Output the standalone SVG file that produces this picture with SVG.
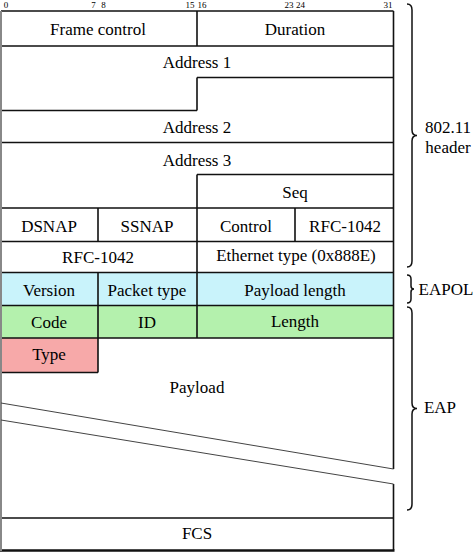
<svg xmlns="http://www.w3.org/2000/svg" width="474" height="552" viewBox="0 0 474 552" font-family="'Liberation Serif', 'Times New Roman', Times, serif">
<style>
.t{font-size:17px;fill:#000;text-anchor:middle}
.b{font-size:9px;fill:#000;text-anchor:middle}
.l{stroke:#111;stroke-width:1.6;fill:none}
.br{stroke:#111;stroke-width:1.5;fill:none}
.d{stroke:#444;stroke-width:1;fill:none}
</style>
<rect width="474" height="552" fill="#fff"/>
<g id="bits">
<text class="b" x="6" y="8">0</text>
<text class="b" x="93.5" y="8">7</text>
<text class="b" x="103.5" y="8">8</text>
<text class="b" x="190" y="8">15</text>
<text class="b" x="202" y="8">16</text>
<text class="b" x="289" y="8">23</text>
<text class="b" x="300.5" y="8">24</text>
<text class="b" x="388" y="8">31</text>
</g>
<g id="fills">
<rect x="1" y="272.5" width="392.5" height="33" fill="#c9f3fb"/>
<rect x="1" y="305.5" width="392.5" height="32.5" fill="#b4f1ad"/>
<rect x="1" y="338" width="97" height="34.5" fill="#f7a9a9"/>
</g>
<g id="frame-control"><text class="t" x="98" y="35">Frame control</text></g>
<g id="duration"><text class="t" x="295" y="35">Duration</text></g>
<g id="address1"><text class="t" x="197" y="68">Address 1</text></g>
<g id="address2"><text class="t" x="197" y="133">Address 2</text></g>
<g id="address3"><text class="t" x="197" y="166">Address 3</text></g>
<g id="seq"><text class="t" x="295" y="198">Seq</text></g>
<g id="dsnap"><text class="t" x="49" y="232">DSNAP</text></g>
<g id="ssnap"><text class="t" x="147" y="232">SSNAP</text></g>
<g id="control"><text class="t" x="246" y="232">Control</text></g>
<g id="rfc1"><text class="t" x="345" y="232">RFC-1042</text></g>
<g id="rfc2"><text class="t" x="98" y="263">RFC-1042</text></g>
<g id="ethertype"><text class="t" x="296" y="261">Ethernet type (0x888E)</text></g>
<g id="version"><text class="t" x="49" y="296">Version</text></g>
<g id="packet-type"><text class="t" x="147" y="296">Packet type</text></g>
<g id="payload-length"><text class="t" x="295" y="296">Payload length</text></g>
<g id="code"><text class="t" x="49" y="328">Code</text></g>
<g id="id"><text class="t" x="147" y="328">ID</text></g>
<g id="length"><text class="t" x="295" y="327">Length</text></g>
<g id="type"><text class="t" x="49" y="360">Type</text></g>
<g id="payload"><text class="t" x="197" y="393">Payload</text></g>
<g id="fcs"><text class="t" x="197" y="539">FCS</text></g>
<g id="connectors">
<path class="l" d="M1,11H393.5M1,46H393.5M197,77.5H393.5M1,110.5H197M1,142.5H393.5M197,174.5H393.5M1,208H393.5M1,241.5H393.5M1,272.5H393.5M1,305.5H393.5M1,338H393.5M1,372.5H98M1,518H393.5"/>
<path class="l" d="M197,11V46M197,77.5V110.5M197,174.5V338M98,208V241.5M98,272.5V372.5M295,208V241.5M393.5,11V469M393.5,484V550"/>
<path d="M0,550.5H394.5" stroke="#111" stroke-width="2.6"/>
<path d="M1,11V551" stroke="#888" stroke-width="2"/>
<path class="d" d="M1,403L393.5,469M1,420L393.5,484"/>
</g>
<g id="brace-header">
<path class="br" d="M407,4Q412,4 412,10L412,130Q412,135.5 417,135.5Q412,135.5 412,141L412,261Q412,267 407,267"/>
<text class="t" x="448" y="133">802.11</text>
<text class="t" x="448" y="153">header</text>
</g>
<g id="brace-eapol">
<path class="br" d="M407,275Q411,275 411,279L411,286Q411,289 414,289Q411,289 411,292L411,299Q411,303 407,303"/>
<text class="t" x="446" y="295">EAPOL</text>
</g>
<g id="brace-eap">
<path class="br" d="M407,307Q412,307 412,313L412,403Q412,408.5 417,408.5Q412,408.5 412,414L412,504Q412,510 407,510"/>
<text class="t" x="440" y="413">EAP</text>
</g>
</svg>
